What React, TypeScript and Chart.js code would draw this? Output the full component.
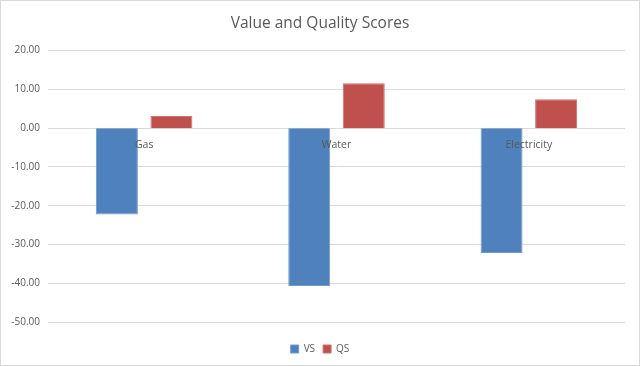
import React, { useEffect, useRef } from "react";
import { Chart, registerables } from "chart.js";

Chart.register(...registerables);

const categories = ["Gas", "Water", "Electricity"];
const vsValues = [-22.3, -40.7, -32.2];
const qsValues = [3.15, 11.6, 7.45];
const seriesLabels = ["VS", "QS"];
const chartTitle = "Value and Quality Scores";

const FONT = "'Open Sans', 'Liberation Sans', sans-serif";
const TEXT = "#595959";

export default function App() {
  const ref = useRef<HTMLCanvasElement | null>(null);

  useEffect(() => {
    document.body.style.margin = "0";
    const canvas = ref.current;
    if (!canvas) return;
    const chart = new Chart(canvas, {
      type: "bar",
      data: {
        labels: categories,
        datasets: [
          {
            label: seriesLabels[0],
            data: vsValues,
            backgroundColor: "#4F81BD",
            borderColor: "#6f9bd0",
            borderWidth: 1,
            categoryPercentage: 0.567,
            barPercentage: 0.77,
          },
          {
            label: seriesLabels[1],
            data: qsValues,
            backgroundColor: "#C0504D",
            borderColor: "#d0706d",
            borderWidth: 1,
            categoryPercentage: 0.567,
            barPercentage: 0.77,
          },
        ],
      },
      options: {
        animation: false,
        responsive: false,
        maintainAspectRatio: false,
        layout: { padding: { left: 0, right: 0, top: 0, bottom: 1 } },
        plugins: {
          title: {
            display: true,
            text: chartTitle,
            color: TEXT,
            font: { family: FONT, size: 15.5, weight: "normal" },
            padding: { top: 13, bottom: 18 },
          },
          legend: {
            position: "bottom",
            labels: {
              boxWidth: 8,
              boxHeight: 8,
              color: TEXT,
              font: { family: FONT, size: 10 },
              padding: 8,
            },
          },
          tooltip: { enabled: false },
        },
        scales: {
          x: {
            position: { y: 0 },
            grid: { display: false },
            border: { display: false },
            ticks: {
              z: 1,
              color: TEXT,
              font: { family: FONT, size: 10.5 },
              padding: 3,
            },
          },
          xSpacer: {
            type: "category",
            position: "bottom",
            grid: { display: false },
            border: { display: false },
            ticks: { display: false },
            afterFit: (s: any) => {
              s.height = 14;
            },
          },
          ySpacer: {
            type: "linear",
            position: "right",
            grid: { display: false },
            border: { display: false },
            ticks: { display: false },
            afterFit: (s: any) => {
              s.width = 14;
            },
          },
          y: {
            min: -50,
            max: 20,
            grid: { color: "#d9d9d9", drawTicks: false },
            border: { display: false },
            afterFit: (s: any) => {
              s.width = 47;
            },
            ticks: {
              stepSize: 10,
              color: TEXT,
              font: { family: FONT, size: 10 },
              padding: 8,
              callback: (v: any) => Number(v).toFixed(2),
            },
          },
        },
      },
    });
    return () => chart.destroy();
  }, []);

  return (
    <div
      style={{
        width: 640,
        height: 366,
        boxSizing: "border-box",
        border: "1px solid #d9d9d9",
        background: "#fff",
      }}
    >
      <canvas ref={ref} width={638} height={364} />
    </div>
  );
}
